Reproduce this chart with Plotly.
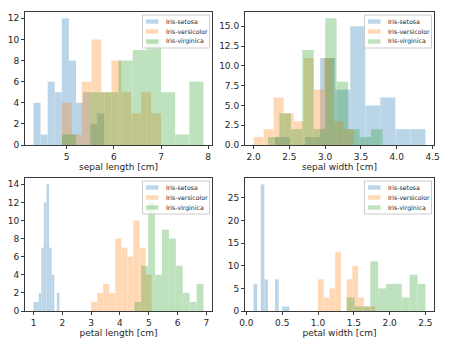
import numpy as np
import plotly.graph_objects as go

W, H = 474, 347

classes = ["Iris-setosa", "Iris-versicolor", "Iris-virginica"]
colors = ["#1f77b4", "#ff7f0e", "#2ca02c"]
features = ["sepal length [cm]", "sepal width [cm]", "petal length [cm]", "petal width [cm]"]

# per-class (min, max) of each feature; each class is split in 10 equal bins
sl_range = [(4.3, 5.8), (4.9, 7.0), (4.9, 7.9)]
sw_range = [(2.3, 4.4), (2.0, 3.4), (2.2, 3.8)]
pl_range = [(1.0, 1.9), (3.0, 5.1), (4.5, 6.9)]
pw_range = [(0.1, 0.6), (1.0, 1.8), (1.4, 2.5)]

# counts per bin (setosa, versicolor, virginica)
sl_counts = [[4, 1, 6, 5, 12, 8, 4, 5, 2, 3],
             [4, 1, 6, 10, 5, 8, 5, 3, 5, 3],
             [1, 0, 5, 5, 8, 9, 10, 5, 1, 6]]
sw_counts = [[1, 0, 1, 11, 7, 15, 5, 6, 2, 2],
             [1, 2, 6, 4, 3, 11, 7, 11, 3, 2],
             [1, 4, 2, 12, 2, 16, 8, 2, 1, 2]]
pl_counts = [[1, 1, 2, 7, 12, 14, 7, 4, 0, 2],
             [1, 2, 3, 2, 8, 7, 6, 10, 7, 4],
             [1, 5, 12, 4, 9, 8, 5, 2, 1, 3]]
pw_counts = [[6, 0, 28, 7, 0, 0, 7, 0, 1, 1],
             [7, 3, 5, 13, 0, 7, 10, 3, 1, 1],
             [3, 1, 1, 11, 5, 6, 6, 3, 8, 6]]

# tick labels
sl_xticks = [5, 6, 7, 8]
sl_yticks = [0, 2, 4, 6, 8, 10, 12]
sw_xticks = [2.0, 2.5, 3.0, 3.5, 4.0, 4.5]
sw_yticks = [0.0, 2.5, 5.0, 7.5, 10.0, 12.5, 15.0]
pl_xticks = [1, 2, 3, 4, 5, 6, 7]
pl_yticks = [0, 2, 4, 6, 8, 10, 12, 14]
pw_xticks = [0.0, 0.5, 1.0, 1.5, 2.0, 2.5]
pw_yticks = [0, 5, 10, 15, 20, 25]

FONT = "DejaVu Sans"
TXT = "#262626"
SPINE = "#3a3a3a"

panels = [
    dict(title=features[0], rng=sl_range, cnt=sl_counts, xt=sl_xticks, yt=sl_yticks,
         xf="d", yf="d", box=(25, 212, 12, 145)),
    dict(title=features[1], rng=sw_range, cnt=sw_counts, xt=sw_xticks, yt=sw_yticks,
         xf=".1f", yf=".1f", box=(245, 434, 12, 145)),
    dict(title=features[2], rng=pl_range, cnt=pl_counts, xt=pl_xticks, yt=pl_yticks,
         xf="d", yf="d", box=(25, 212, 178, 311)),
    dict(title=features[3], rng=pw_range, cnt=pw_counts, xt=pw_xticks, yt=pw_yticks,
         xf=".1f", yf="d", box=(245, 434, 178, 311)),
]


def px(x):
    return x / W


def py(y):
    return 1 - y / H


def rgba(hexc, a):
    h = hexc.lstrip("#")
    r, g, b = int(h[0:2], 16), int(h[2:4], 16), int(h[4:6], 16)
    return f"rgba({r},{g},{b},{a})"


fig = go.Figure()
layout = dict(
    width=W, height=H,
    margin=dict(l=0, r=0, t=0, b=0),
    paper_bgcolor="white", plot_bgcolor="white",
    barmode="overlay", showlegend=False,
    font=dict(family=FONT, size=9, color=TXT),
)
shapes = []
annotations = []

for i, p in enumerate(panels):
    sfx = "" if i == 0 else str(i + 1)
    xa, ya = "x" + sfx, "y" + sfx
    for c in range(3):
        lo, hi = p["rng"][c]
        counts = p["cnt"][c]
        edges = np.linspace(lo, hi, len(counts) + 1)
        centers = (edges[:-1] + edges[1:]) / 2
        fig.add_trace(go.Bar(
            x=centers, y=counts, width=edges[1] - edges[0],
            marker=dict(color=colors[c], line=dict(width=0)),
            opacity=0.3, name=classes[c], xaxis=xa, yaxis=ya,
        ))
    dmin = min(r[0] for r in p["rng"])
    dmax = max(r[1] for r in p["rng"])
    pad = 0.05 * (dmax - dmin)
    ymax = max(max(cc) for cc in p["cnt"]) * 1.05
    x0, x1, y0, y1 = p["box"]
    axis_common = dict(
        showgrid=False, zeroline=False, showline=True, mirror=True,
        linecolor=SPINE, linewidth=1, ticks="outside", ticklen=3,
        tickwidth=1, tickcolor=SPINE, automargin=False,
        tickfont=dict(family=FONT, size=9, color=TXT),
    )
    layout["xaxis" + sfx] = dict(
        axis_common, domain=[px(x0), px(x1)], anchor=ya,
        range=[dmin - pad, dmax + pad], tickvals=p["xt"], tickformat=p["xf"],
        title=dict(text=p["title"], standoff=2, font=dict(family=FONT, size=9, color=TXT)),
    )
    layout["yaxis" + sfx] = dict(
        axis_common, domain=[py(y1), py(y0)], anchor=xa,
        range=[0, ymax], tickvals=p["yt"], tickformat=p["yf"],
    )

    # legend box (upper right of each panel)
    bw, bh = 67, 33
    bx1 = x1 - 2.5
    bx0 = bx1 - bw
    by0 = y0 + 3
    by1 = by0 + bh
    shapes.append(dict(type="rect", xref="paper", yref="paper",
                       x0=px(bx0), x1=px(bx1), y0=py(by1), y1=py(by0),
                       fillcolor="rgba(255,255,255,0.8)",
                       line=dict(color="#cccccc", width=1)))
    for c in range(3):
        cy = by0 + 6.5 + 10 * c
        shapes.append(dict(type="rect", xref="paper", yref="paper",
                           x0=px(bx0 + 3.5), x1=px(bx0 + 16), y0=py(cy + 2.2), y1=py(cy - 2.2),
                           fillcolor=rgba(colors[c], 0.3), line=dict(width=0)))
        annotations.append(dict(xref="paper", yref="paper", x=px(bx0 + 21), y=py(cy),
                                xanchor="left", yanchor="middle", showarrow=False,
                                text=classes[c], font=dict(family=FONT, size=6.2, color=TXT)))

layout["shapes"] = shapes
layout["annotations"] = annotations
fig.update_layout(**layout)
fig.write_html("out.html")
